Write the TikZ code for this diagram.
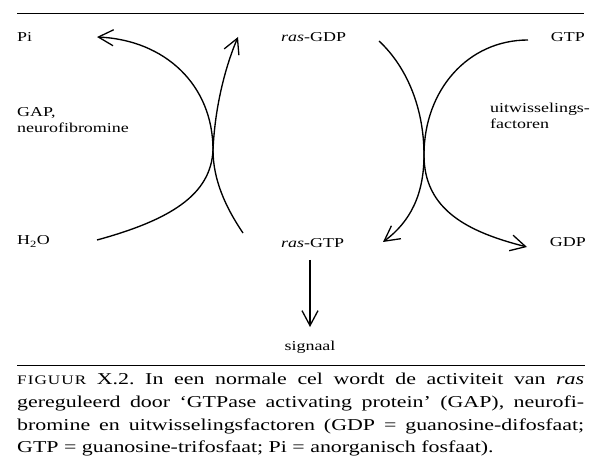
\documentclass[tikz,border=0pt]{standalone}
\usepackage{fontspec}
\setmainfont{Liberation Serif}[FakeStretch=1.32]
\newfontfamily\scfont{Liberation Serif}[FakeStretch=1.32,LetterSpace=8]
\usetikzlibrary{arrows.meta}
\frenchspacing
\tikzset{
  lbl/.style={inner sep=0pt,font=\fontsize{13.6}{16}\selectfont},
  curve/.style={line width=1.35pt},
  vhead/.style={-{Straight Barb[length=15pt,width=16pt,line width=1.3pt]}},
  rule/.style={line width=0.8pt}
}
\begin{document}
\begin{tikzpicture}[x=1pt,y=-1pt]
\useasboundingbox (0,0) rectangle (600,473);
% rules
\coordinate (t1) at (17,13);
\coordinate (t2) at (584,13);
\coordinate (b1) at (17,365);
\coordinate (b2) at (585,365);
\draw[rule] (t1) -- (t2);
\draw[rule] (b1) -- (b2);
% labels
\node[lbl,anchor=base west] (pi) at (17,42) {Pi};
\node[lbl,anchor=base west] (rasgdp) at (281,42) {\textit{ras}-GDP};
\node[lbl,anchor=base east] (gtp) at (585,42) {GTP};
\node[lbl,anchor=base west,align=left] (gap) at (17,133) {GAP,\\neurofibromine};
\node[lbl,anchor=base west,align=left] (uit) at (490,129) {uitwisselings-\\factoren};
\node[lbl,anchor=base west] (h2o) at (17,245) {H\textsubscript{2}O};
\node[lbl,anchor=base west] (rasgtp) at (281,248) {\textit{ras}-GTP};
\node[lbl,anchor=base east] (gdp) at (586,247) {GDP};
\node[lbl,anchor=base] (sig) at (310,350) {signaal};
% curve end points
\coordinate (c1s) at (97,240);
\coordinate (c1e) at (238,37);
\coordinate (c2s) at (243,233);
\coordinate (c2e) at (97,37);
\coordinate (cas) at (379,41);
\coordinate (cae) at (383,242);
\coordinate (cbs) at (528,40);
\coordinate (cbe) at (527,247);
\coordinate (ss) at (310,260);
\coordinate (se) at (310,327);
% left pair
\draw[curve,vhead] (c1s) .. controls (170,220) and (211,195) .. (213,150)
   .. controls (215,105) and (226,65) .. (c1e);
\draw[curve,vhead] (c2s) .. controls (226,208) and (213,180) .. (213,150)
   .. controls (213,85) and (165,40) .. (c2e);
% right pair
\draw[curve] (cas) .. controls (408,68) and (424,110) .. (424,155);
\draw[curve,vhead] (424,155) .. controls (424,195) and (410,222) .. (cae);
\draw[curve] (cbs) .. controls (468,40) and (424,90) .. (424,155);
\draw[curve,vhead] (424,155) .. controls (424,210) and (468,232) .. (cbe);
% signal
\draw[line width=1.2pt,vhead] (ss) -- (se);
% caption
\node[inner sep=0pt,anchor=north west,text width=567pt,align=justify,
  font=\fontsize{16.6}{22.7}\selectfont] (cap) at (17,373)
  {{\scfont\fontsize{13}{22.7}\selectfont FIGUUR} X.2. In een normale cel wordt de activiteit van \textit{ras}\linebreak
  gereguleerd door `GTPase activating protein' (GAP), neurofi-\linebreak
  bromine en uitwisselingsfactoren (GDP = guanosine-difosfaat;\linebreak
  GTP = guanosine-trifosfaat; Pi = anorganisch fosfaat).};
\end{tikzpicture}
\end{document}
